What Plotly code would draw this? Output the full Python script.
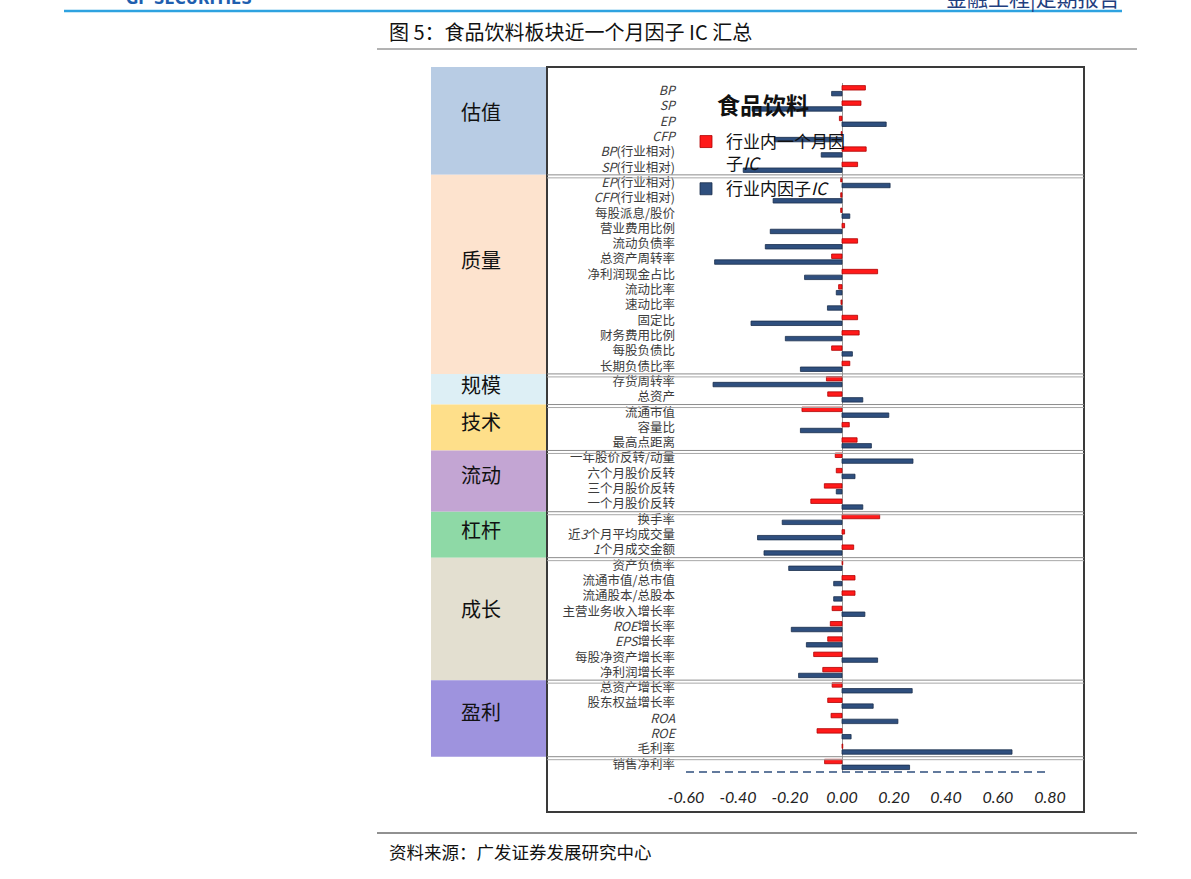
import re
import plotly.graph_objects as go

# ---------------- data ----------------
categories = ["BP", "SP", "EP", "CFP", "BP(行业相对)", "SP(行业相对)", "EP(行业相对)", "CFP(行业相对)",
              "每股派息/股价", "营业费用比例", "流动负债率", "总资产周转率", "净利润现金占比", "流动比率",
              "速动比率", "固定比", "财务费用比例", "每股负债比", "长期负债比率", "存货周转率", "总资产",
              "流通市值", "容量比", "最高点距离", "一年股价反转/动量", "六个月股价反转", "三个月股价反转",
              "一个月股价反转", "换手率", "近3个月平均成交量", "1个月成交金额", "资产负债率",
              "流通市值/总市值", "流通股本/总股本", "主营业务收入增长率", "ROE增长率", "EPS增长率",
              "每股净资产增长率", "净利润增长率", "总资产增长率", "股东权益增长率", "ROA", "ROE",
              "毛利率", "销售净利率"]

ic_month = [0.090, 0.073, -0.010, -0.003, 0.093, 0.060, -0.005, -0.005,
            -0.005, 0.010, 0.060, -0.040, 0.137, -0.013,
            -0.004, 0.060, 0.066, -0.040, 0.030, -0.060, -0.055,
            -0.154, 0.028, 0.058, -0.026, -0.022, -0.068,
            -0.120, 0.145, 0.010, 0.045, 0.003,
            0.050, 0.050, -0.038, -0.045, -0.055,
            -0.109, -0.074, -0.038, -0.055, -0.042, -0.096,
            0.003, -0.067]

ic_industry = [-0.040, -0.346, 0.170, -0.260, -0.080, -0.380, 0.185, -0.265,
               0.030, -0.276, -0.295, -0.490, -0.144, -0.022,
               -0.056, -0.350, -0.218, 0.040, -0.160, -0.496, 0.080,
               0.180, -0.160, 0.113, 0.273, 0.050, -0.022,
               0.080, -0.230, -0.325, -0.300, -0.205,
               -0.032, -0.032, 0.088, -0.195, -0.137,
               0.137, -0.167, 0.270, 0.120, 0.215, 0.035,
               0.654, 0.260]

group_names = ["估值", "质量", "规模", "技术", "流动", "杠杆", "成长", "盈利"]
group_sizes = [6, 13, 2, 3, 4, 3, 8, 5]
group_colors = ["#B8CCE4", "#FDE3CE", "#DDEFF5", "#FEDF8A", "#C3A5D3", "#8ED9A6", "#E3DFD0", "#9E93DE"]

x_ticks = [-0.6, -0.4, -0.2, 0.0, 0.2, 0.4, 0.6, 0.8]
x_tick_labels = ["-0.60", "-0.40", "-0.20", "0.00", "0.20", "0.40", "0.60", "0.80"]

series_names = ["行业内一个月因<br>子<i>IC</i>", "行业内因子<i>IC</i>"]
legend_title = "食品饮料"
chart_title = "图 5：食品饮料板块近一个月因子 IC 汇总"
source_text = "资料来源：广发证券发展研究中心"

# ---------------- layout helpers ----------------
FIG_W, FIG_H = 1191, 879
L, R, T, B = 686, 1050, 83, 772          # plot area in pixels
CJK = "Noto Sans CJK SC"


def pxx(p):
    return (p - L) / (R - L)


def pxy(p):
    return (B - p) / (B - T)


n = len(categories)
idx = list(range(n))


def cat_to_paper(b):
    return 1 - (b + 0.5) / n


def italicize(s):
    return re.sub(r"([A-Za-z0-9]+)", r"<i>\1</i>", s)


tick_text = [italicize(c) for c in categories]

fig = go.Figure()
fig.add_trace(go.Bar(
    y=idx, x=ic_month, orientation="h", name=series_names[0],
    marker=dict(color="#FF1A1A", line=dict(color="#B00000", width=0.8)),
    width=0.29, offset=-0.33,
))
fig.add_trace(go.Bar(
    y=idx, x=ic_industry, orientation="h", name=series_names[1],
    marker=dict(color="#2F4F7E", line=dict(color="#1A2E4D", width=0.8)),
    width=0.29, offset=0.05,
))

shapes = []
annotations = []

# outer frame of the chart
frame_x0, frame_x1 = pxx(547), pxx(1084)
frame_y0, frame_y1 = pxy(812), pxy(67)
shapes.append(dict(type="rect", xref="paper", yref="paper", x0=frame_x0, x1=frame_x1,
                   y0=frame_y0, y1=frame_y1, line=dict(color="#3a3a3a", width=2),
                   fillcolor="rgba(0,0,0,0)", layer="above"))

# dashed base line along the value range
shapes.append(dict(type="line", xref="paper", yref="paper", x0=0, x1=1, y0=0, y1=0,
                   line=dict(color="#2F4F7E", width=1.5, dash="8px,5px")))

# group boxes, names and separators
box_x0, box_x1 = pxx(431), pxx(547)
start = 0
for i, (gname, gsize, gcol) in enumerate(zip(group_names, group_sizes, group_colors)):
    top_b = start - 0.5
    bot_b = start + gsize - 0.5
    y_top = frame_y1 if i == 0 else cat_to_paper(top_b)
    y_bot = cat_to_paper(bot_b)
    shapes.append(dict(type="rect", xref="paper", yref="paper", x0=box_x0, x1=box_x1,
                       y0=y_bot, y1=y_top, line=dict(width=0), fillcolor=gcol, layer="below"))
    # names sit slightly above the middle of the taller boxes
    name_y = (y_top + y_bot) / 2 + 0.004 + 0.06 * (y_top - y_bot)
    annotations.append(dict(text=gname, xref="paper", yref="paper", x=pxx(481),
                            y=name_y, xanchor="center", yanchor="middle",
                            showarrow=False, font=dict(family=CJK, size=20, color="#111111")))
    # separator lines (double gray)
    ys = cat_to_paper(bot_b)
    for dy, col in ((0, "#8c8c8c"), (-3 / (B - T), "#a8a8a8")):
        shapes.append(dict(type="line", xref="paper", yref="paper", x0=frame_x0, x1=frame_x1,
                           y0=ys + dy, y1=ys + dy, line=dict(color=col, width=1)))
    start += gsize

# page header / footer decoration
shapes.append(dict(type="line", xref="paper", yref="paper", x0=pxx(64), x1=pxx(1122),
                   y0=pxy(11), y1=pxy(11), line=dict(color="#2EA2E0", width=2.5)))
shapes.append(dict(type="line", xref="paper", yref="paper", x0=pxx(377), x1=pxx(1137),
                   y0=pxy(49), y1=pxy(49), line=dict(color="#666666", width=1)))
shapes.append(dict(type="line", xref="paper", yref="paper", x0=pxx(377), x1=pxx(1137),
                   y0=pxy(833), y1=pxy(833), line=dict(color="#222222", width=1)))

annotations.append(dict(text="GF SECURITIES", xref="paper", yref="paper", x=pxx(124), y=pxy(-1),
                        xanchor="left", yanchor="middle", showarrow=False,
                        font=dict(family="DejaVu Sans", size=15, color="#1F5FAF", weight="bold")))
annotations.append(dict(text="金融工程|定期报告", xref="paper", yref="paper", x=pxx(1122), y=pxy(-3),
                        xanchor="right", yanchor="middle", showarrow=False,
                        font=dict(family=CJK, size=21, color="#1F3F7F")))
annotations.append(dict(text=chart_title, xref="paper", yref="paper", x=pxx(387), y=pxy(31),
                        xanchor="left", yanchor="middle", showarrow=False,
                        font=dict(family=CJK, size=20, color="#111111")))
annotations.append(dict(text=source_text, xref="paper", yref="paper", x=pxx(387), y=pxy(851),
                        xanchor="left", yanchor="middle", showarrow=False,
                        font=dict(family=CJK, size=17.5, color="#111111")))
# legend heading
annotations.append(dict(text="<b>" + legend_title + "</b>", xref="paper", yref="paper",
                        x=pxx(715), y=pxy(104), xanchor="left", yanchor="middle", showarrow=False,
                        font=dict(family=CJK, size=23, color="#111111")))

fig.update_layout(
    width=FIG_W, height=FIG_H,
    margin=dict(l=L, r=FIG_W - R, t=T, b=FIG_H - B, pad=0),
    paper_bgcolor="white", plot_bgcolor="rgba(0,0,0,0)",
    barmode="overlay",
    showlegend=True,
    legend=dict(x=pxx(686), y=pxy(124), xanchor="left", yanchor="top",
                bgcolor="rgba(0,0,0,0)", valign="top", itemwidth=30, tracegroupgap=0,
                font=dict(family=CJK, size=17, color="#111111")),
    xaxis=dict(range=[-0.6001, 0.8001], tickvals=x_ticks, ticktext=x_tick_labels,
               showgrid=False, zeroline=True, zerolinecolor="#9a9a9a", zerolinewidth=1,
               showline=False, ticks="", ticklabelstandoff=14,
               tickfont=dict(family="Lato", size=16, color="#222222", style="italic")),
    yaxis=dict(range=[n - 0.5, -0.5], tickvals=idx, ticktext=tick_text,
               showgrid=False, zeroline=False, showline=False, ticks="",
               ticklabelstandoff=10,
               tickfont=dict(family=CJK, size=12.5, color="#3c3c3c")),
    shapes=shapes,
    annotations=annotations,
    font=dict(family=CJK),
)

fig.write_html("out.html")
